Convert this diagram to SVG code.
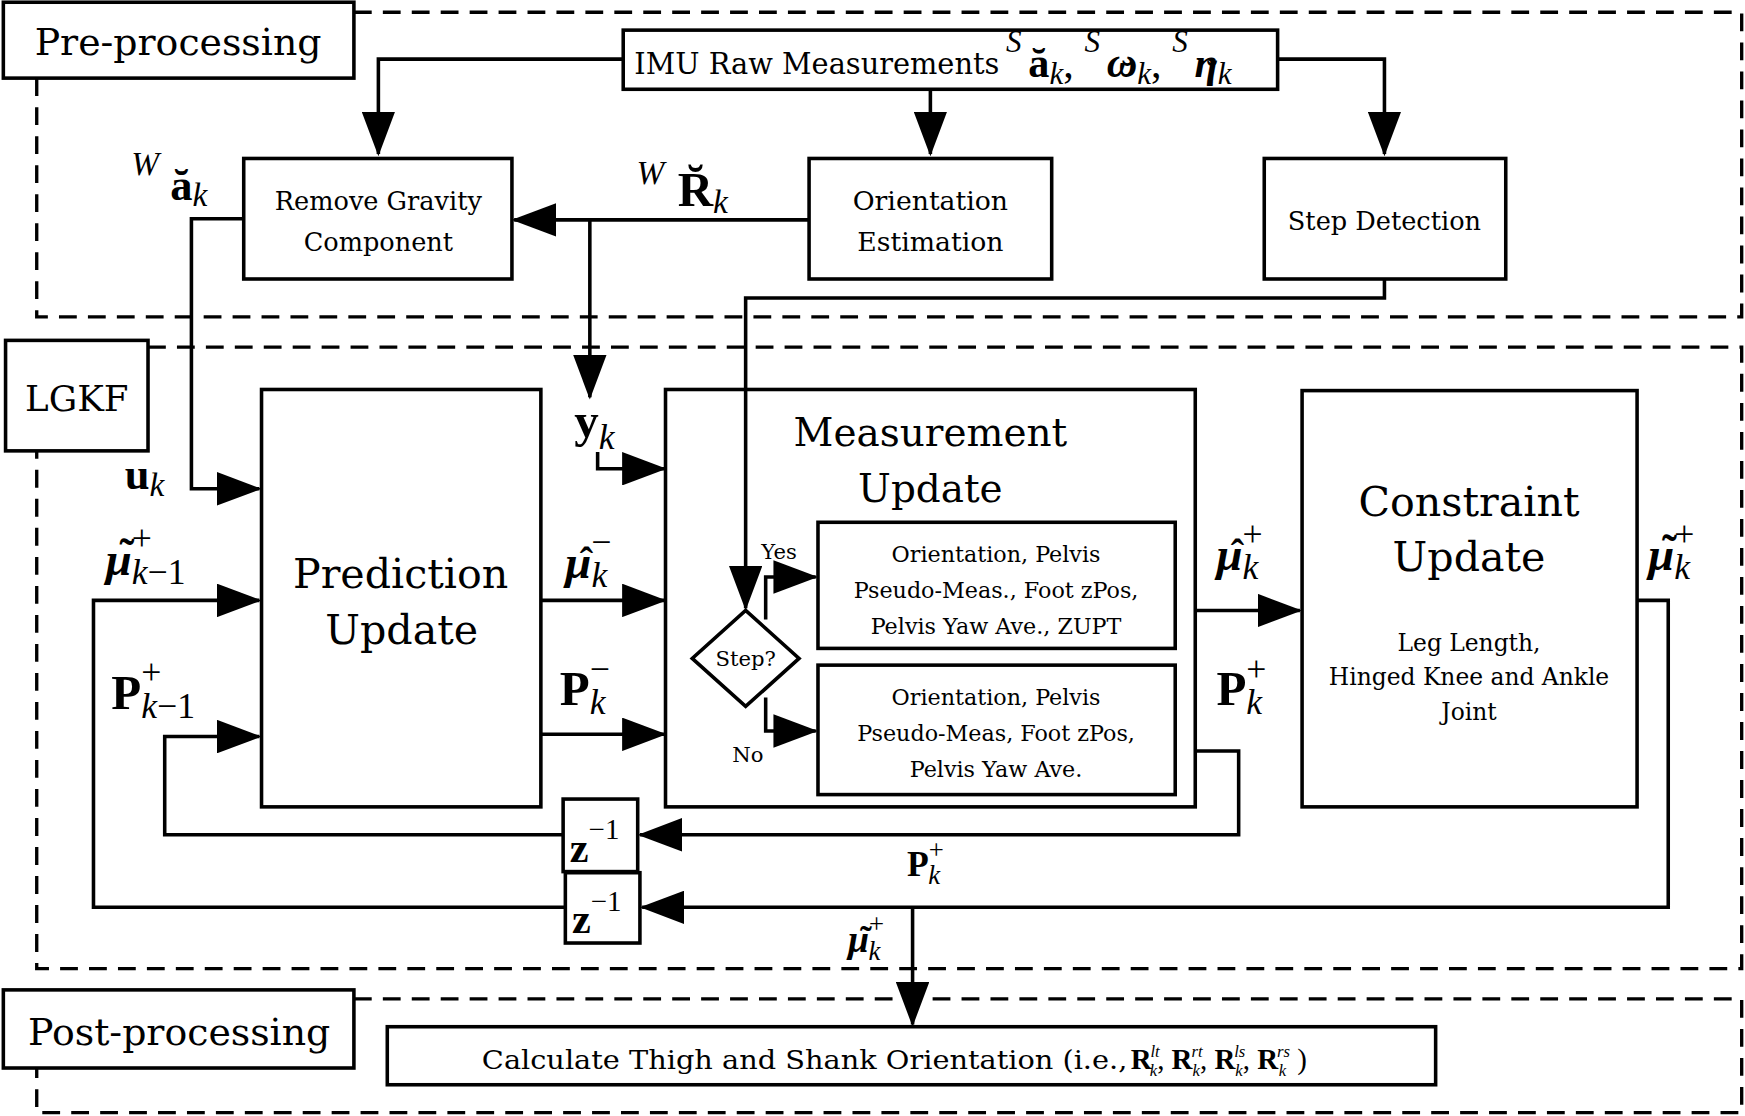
<svg xmlns="http://www.w3.org/2000/svg" width="1745" height="1116" viewBox="0 0 1745 1116">
<style>
.b{fill:#fff;stroke:#000;stroke-width:3.2}
.d{fill:none;stroke:#000;stroke-width:3;stroke-dasharray:16 10}
.l{fill:none;stroke:#000;stroke-width:3.2}
.t{font-family:"DejaVu Serif","Liberation Serif",serif;fill:#000;text-anchor:middle}
.m{font-family:"Liberation Serif",serif;fill:#000}
.ac{font-family:"Liberation Serif",serif;fill:#000;text-anchor:middle;font-weight:bold}
.mb{font-weight:bold}
.i{font-style:italic;font-weight:normal}
</style>
<defs><marker id="a" markerUnits="userSpaceOnUse" markerWidth="40" markerHeight="30" refX="38" refY="15" orient="auto"><path d="M0,0 L40,15 L0,30 Z" fill="#000"/></marker></defs>
<rect width="1745" height="1116" fill="#fff"/>
<g transform="scale(1.1129 1.116)">
<g id="regions">
<path class="d" d="M318,11 H1565 V284 H33 V70"/>
<path class="d" d="M133,311 H1565 V868 H33 V404"/>
<path class="d" d="M318,895 H1565 V997 H33 V957"/>
</g>
<g id="lbl-pre"><rect class="b" x="3" y="2" width="315" height="68"/><text class="t" x="160" y="49" font-size="34">Pre-processing</text></g>
<g id="lbl-lgkf"><rect class="b" x="5" y="305" width="128" height="99"/><text class="t" x="69" y="368" font-size="32">LGKF</text></g>
<g id="lbl-post"><rect class="b" x="3" y="887" width="315" height="70"/><text class="t" x="161" y="936" font-size="34">Post-processing</text></g>
<g id="imu"><rect class="b" x="560" y="27" width="588" height="53"/>
<text class="m" x="570" y="66" font-size="27" style="font-family:'DejaVu Serif',serif" textLength="328" lengthAdjust="spacingAndGlyphs">IMU Raw Measurements</text>
<text class="m" x="904" y="69" font-size="38"><tspan class="i" font-size="28" dy="-22">S</tspan><tspan class="mb" dx="6" dy="22">ă</tspan><tspan class="i" font-size="28" dy="6">k</tspan><tspan dy="-6">, </tspan><tspan class="i" font-size="28" dy="-22">S</tspan><tspan class="mb" font-style="italic" dx="6" dy="22">ω</tspan><tspan class="i" font-size="28" dy="6">k</tspan><tspan dy="-6">, </tspan><tspan class="i" font-size="28" dy="-22">S</tspan><tspan class="mb" font-style="italic" dx="6" dy="22">η</tspan><tspan class="i" font-size="28" dy="6">k</tspan></text>
<text class="ac" x="1013" y="76" font-size="30">˘</text><text class="ac" x="1089" y="76" font-size="30">˘</text></g>
<g id="gravity"><rect class="b" x="219" y="142" width="241" height="108"/><text class="t" x="340" y="188" font-size="23">Remove Gravity</text><text class="t" x="340" y="225" font-size="23">Component</text></g>
<g id="orient"><rect class="b" x="727" y="142" width="218" height="108"/><text class="t" x="836" y="188" font-size="24">Orientation</text><text class="t" x="836" y="225" font-size="24">Estimation</text></g>
<g id="step"><rect class="b" x="1136" y="142" width="217" height="108"/><text class="t" x="1244" y="206" font-size="23">Step Detection</text></g>
<g id="pred"><rect class="b" x="235" y="349" width="251" height="374"/><text class="t" x="360" y="527" font-size="37">Prediction</text><text class="t" x="361" y="577" font-size="37">Update</text></g>
<g id="meas"><rect class="b" x="598" y="349" width="476" height="374"/><text class="t" x="836" y="400" font-size="35">Measurement</text><text class="t" x="836" y="450" font-size="35">Update</text></g>
<g id="sub1"><rect class="b" x="735" y="468" width="321" height="113"/><text class="t" x="895" y="504" font-size="20">Orientation, Pelvis</text><text class="t" x="895" y="536" font-size="20">Pseudo-Meas., Foot zPos,</text><text class="t" x="895" y="568" font-size="20">Pelvis Yaw Ave., ZUPT</text></g>
<g id="sub2"><rect class="b" x="735" y="596" width="321" height="116"/><text class="t" x="895" y="632" font-size="20">Orientation, Pelvis</text><text class="t" x="895" y="664" font-size="20">Pseudo-Meas, Foot zPos,</text><text class="t" x="895" y="696" font-size="20">Pelvis Yaw Ave.</text></g>
<g id="constr"><rect class="b" x="1170" y="350" width="301" height="373"/><text class="t" x="1320" y="462" font-size="37">Constraint</text><text class="t" x="1320" y="512" font-size="37">Update</text><text class="t" x="1320" y="583" font-size="21">Leg Length,</text><text class="t" x="1320" y="614" font-size="21">Hinged Knee and Ankle</text><text class="t" x="1320" y="645" font-size="21">Joint</text></g>
<g id="connectors">
<path class="l" d="M560,53 H340 V138" marker-end="url(#a)"/>
<path class="l" d="M836,80 V138" marker-end="url(#a)"/>
<path class="l" d="M1148,53 H1244 V138" marker-end="url(#a)"/>
<path class="l" d="M727,197 H462" marker-end="url(#a)"/>
<path class="l" d="M530,197 V356" marker-end="url(#a)"/>
<path class="l" d="M537,405 V420 H597" marker-end="url(#a)"/>
<path class="l" d="M219,196 H172 V438 H233" marker-end="url(#a)"/>
<path class="l" d="M1244,250 V267 H670 V545" marker-end="url(#a)"/>
<path class="l" d="M688,555 V517 H733" marker-end="url(#a)"/>
<path class="l" d="M688,625 V655 H733" marker-end="url(#a)"/>
<path class="l" d="M486,538 H597" marker-end="url(#a)"/>
<path class="l" d="M486,658 H597" marker-end="url(#a)"/>
<path class="l" d="M1074,547 H1168" marker-end="url(#a)"/>
<path class="l" d="M1074,673 H1113 V748 H575" marker-end="url(#a)"/>
<path class="l" d="M506,748 H148 V660 H233" marker-end="url(#a)"/>
<path class="l" d="M1471,538 H1499 V813 H577" marker-end="url(#a)"/>
<path class="l" d="M508,813 H84 V538 H233" marker-end="url(#a)"/>
<path class="l" d="M820,813 V918" marker-end="url(#a)"/>
</g>
<g id="stepq"><path class="b" d="M670,547 L718,590 L670,633 L622,590 Z"/><text class="t" x="670" y="597" font-size="19">Step?</text>
<text class="t" x="700" y="501" font-size="19">Yes</text><text class="t" x="672" y="683" font-size="19">No</text></g>
<g id="z1"><rect class="b" x="506" y="716" width="67" height="65"/><text class="m" x="512" y="772" font-size="38"><tspan class="mb">z</tspan><tspan font-size="26" dy="-20">−1</tspan></text></g>
<g id="z2"><rect class="b" x="508" y="782" width="67" height="63"/><text class="m" x="514" y="836" font-size="38"><tspan class="mb">z</tspan><tspan font-size="26" dy="-20">−1</tspan></text></g>
<g id="post"><rect class="b" x="348" y="920" width="942" height="52"/>
<text x="433" y="958" font-size="24" style="font-family:'DejaVu Serif',serif" textLength="580" lengthAdjust="spacingAndGlyphs">Calculate Thigh and Shank Orientation (i.e.,</text>
<text class="m" x="1016" y="958" font-size="26"><tspan class="mb">R</tspan><tspan class="i" font-size="15" dx="-1" dy="-11">lt</tspan><tspan class="i" font-size="15" dx="-9" dy="17">k</tspan><tspan dy="-6">, </tspan><tspan class="mb">R</tspan><tspan class="i" font-size="15" dx="-1" dy="-11">rt</tspan><tspan class="i" font-size="15" dx="-9" dy="17">k</tspan><tspan dy="-6">, </tspan><tspan class="mb">R</tspan><tspan class="i" font-size="15" dx="-1" dy="-11">ls</tspan><tspan class="i" font-size="15" dx="-9" dy="17">k</tspan><tspan dy="-6">, </tspan><tspan class="mb">R</tspan><tspan class="i" font-size="15" dx="-1" dy="-11">rs</tspan><tspan class="i" font-size="15" dx="-10" dy="17">k</tspan><tspan dx="10" dy="-6">)</tspan></text></g>
<g id="labels">
<text class="m" x="118" y="157" font-size="40"><tspan class="i" font-size="30">W</tspan><tspan class="mb" dx="10" dy="22">ă</tspan><tspan class="i" font-size="30" dy="6">k</tspan></text>
<text class="m" x="572" y="165" font-size="44"><tspan class="i" font-size="30">W</tspan><tspan class="mb" dx="12" dy="20">R̆</tspan><tspan class="i" font-size="30" dy="6">k</tspan></text>
<text class="m" x="516" y="392" font-size="44"><tspan class="mb">y</tspan><tspan class="i" font-size="32" dy="10">k</tspan></text>
<text class="m" x="112" y="438" font-size="40"><tspan class="mb">u</tspan><tspan class="i" font-size="30" dy="6">k</tspan></text>
<text class="m" x="95" y="515" font-size="42"><tspan class="mb" font-style="italic">μ</tspan><tspan font-size="32" dy="-22">+</tspan><tspan class="i" font-size="32" dx="-18" dy="30">k</tspan><tspan font-size="32">−1</tspan></text>
<text class="ac" x="114" y="510" font-size="40">˜</text>
<text class="m" x="100" y="635" font-size="44"><tspan class="mb">P</tspan><tspan font-size="32" dy="-22">+</tspan><tspan class="i" font-size="32" dx="-18" dy="30">k</tspan><tspan font-size="32">−1</tspan></text>
<text class="m" x="508" y="518" font-size="42"><tspan class="mb" font-style="italic">μ</tspan><tspan font-size="32" dy="-22">−</tspan><tspan class="i" font-size="32" dx="-18" dy="30">k</tspan></text>
<text class="ac" x="527" y="515" font-size="36">ˆ</text>
<text class="m" x="503" y="632" font-size="44"><tspan class="mb">P</tspan><tspan font-size="32" dy="-22">−</tspan><tspan class="i" font-size="32" dx="-18" dy="30">k</tspan></text>
<text class="m" x="1093" y="511" font-size="42"><tspan class="mb" font-style="italic">μ</tspan><tspan font-size="32" dy="-22">+</tspan><tspan class="i" font-size="32" dx="-18" dy="30">k</tspan></text>
<text class="ac" x="1112" y="508" font-size="36">ˆ</text>
<text class="m" x="1093" y="632" font-size="44"><tspan class="mb">P</tspan><tspan font-size="32" dy="-22">+</tspan><tspan class="i" font-size="32" dx="-18" dy="30">k</tspan></text>
<text class="m" x="1481" y="511" font-size="42"><tspan class="mb" font-style="italic">μ</tspan><tspan font-size="32" dy="-22">+</tspan><tspan class="i" font-size="32" dx="-18" dy="30">k</tspan></text>
<text class="ac" x="1500" y="506" font-size="40">˜</text>
<text class="m" x="815" y="785" font-size="32"><tspan class="mb">P</tspan><tspan font-size="24" dy="-15">+</tspan><tspan class="i" font-size="24" dx="-14" dy="22">k</tspan></text>
<text class="m" x="762" y="853" font-size="34"><tspan class="mb" font-style="italic">μ</tspan><tspan font-size="24" dy="-17">+</tspan><tspan class="i" font-size="24" dx="-14" dy="24">k</tspan></text>
<text class="ac" x="778" y="852" font-size="32">˜</text>
</g>
</g>
</svg>
